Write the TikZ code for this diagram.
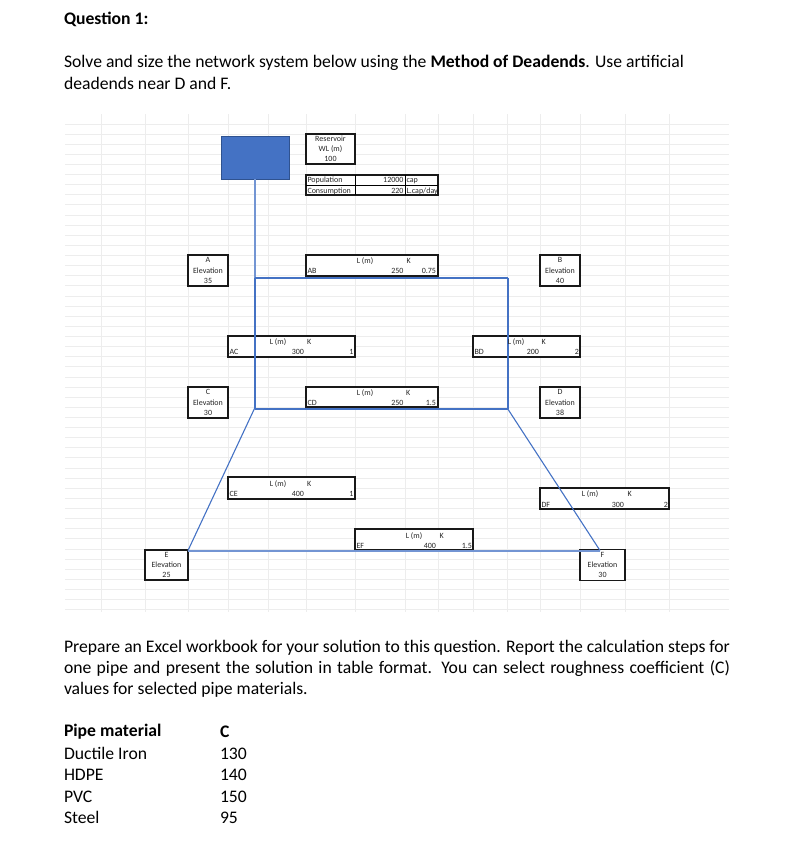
\documentclass[tikz,border=0pt]{standalone}
\usepackage{fontspec}
\setmainfont{Carlito}
\usetikzlibrary{positioning}
\definecolor{pipeblue}{HTML}{4472C4}
\definecolor{tankedge}{HTML}{2F528F}
\definecolor{gridgray}{HTML}{EDEDED}
\begin{document}
\begin{tikzpicture}[x=1pt,y=-1pt,
  every node/.style={inner sep=0pt, outer sep=0pt},
  para/.style={anchor=west, yshift=-1pt, font=\fontsize{17.65}{20}\selectfont},
  hd/.style={anchor=west, yshift=-1pt, font=\fontsize{17.65}{20}\selectfont\bfseries},
  gridline/.style={draw=gridgray, line width=1pt},
  cellbox/.style={draw=black!90, line width=1.1pt, fill=white},
  elev/.style={cellbox, align=center, text=black!85, font=\fontsize{8}{10.2}\selectfont,
               execute at begin node={\rule{0pt}{10pt}}},
  lcell/.style={anchor=west, text=black!85, text height=6pt, text depth=1pt, font=\fontsize{8}{9}\selectfont},
  ccell/.style={text=black!85, text height=6pt, text depth=1pt, font=\fontsize{8}{9}\selectfont},
  rcell/.style={anchor=east, text=black!85, text height=6pt, text depth=1pt, font=\fontsize{8}{9}\selectfont},
  tank/.style={draw=tankedge, fill=pipeblue, line width=0.8pt},
  feed/.style={draw=pipeblue!75, line width=2pt},
  pipe/.style={draw=pipeblue, line width=2pt},
  slantpipe/.style={draw=pipeblue, line width=1.1pt}]

\useasboundingbox (0,0) rectangle (801,844);

% spreadsheet grid
\foreach \gx in {101,145,188,228,268,306,355,405,438,473,507,540,580,625,669}
  \draw[gridline] (\gx,114) -- (\gx,612);
\foreach \gy in {0,...,48}
  \draw[gridline] (65,124+\gy*10.12) -- (729,124+\gy*10.12);

% text above
\node[hd] (q1) at (64,18.5) {Question 1:};
\node[para] (intro1) at (64,61.5) {Solve and size the network system below using the \textbf{Method of Deadends}. Use artificial};
\node[para] (intro2) at (64,82.5) {deadends near D and F.};

% reservoir
\node[tank, minimum width=68pt, minimum height=43pt] (res) at (255,157.5) {};
\node[elev, minimum width=49pt, minimum height=30pt] (reswl) at (330.5,149) {Reservoir\\WL (m)\\100};

% population table
\node[cellbox, minimum width=132pt, minimum height=20pt] (poptab) at (372,185) {};
\draw[line width=0.9pt] (355,175) -- (355,195);
\draw[line width=0.9pt] (405,175) -- (405,195);
\draw[line width=0.5pt] (306,185) -- (438,185);
\node[lcell] (poplbl) at (307.5,180) {Population};
\node[lcell] (conlbl) at (307.5,190.5) {Consumption};
\node[rcell] (popval) at (403.5,180) {12000};
\node[rcell] (conval) at (403.5,190.5) {220};
\node[lcell] (popunit) at (406.5,180) {cap};
\node[lcell] (conunit) at (406.5,190.5) {L.cap/day};

% junction boxes
\node[elev, minimum width=40pt, minimum height=31pt] (a) at (208,270.5) {A\\Elevation\\35};
\node[elev, minimum width=40pt, minimum height=31pt] (b) at (560,270.5) {B\\Elevation\\40};
\node[elev, minimum width=40pt, minimum height=31pt] (c) at (208,402.5) {C\\Elevation\\30};
\node[elev, minimum width=40pt, minimum height=31pt] (d) at (560,402.5) {D\\Elevation\\38};
\node[elev, minimum width=43pt, minimum height=30pt] (e) at (166.5,565) {E\\Elevation\\25};
\node[elev, minimum width=45pt, minimum height=31pt] (f) at (602.5,565) {F\\Elevation\\30};

% pipe tables
\node[cellbox, minimum width=132pt, minimum height=21pt] (ab) at (372,265.5) {};
\node[cellbox, minimum width=127pt, minimum height=21pt] (ac) at (291.5,346.5) {};
\node[cellbox, minimum width=107pt, minimum height=21pt] (bd) at (526.5,346.5) {};
\node[cellbox, minimum width=132pt, minimum height=20pt] (cd) at (372,397) {};
\node[cellbox, minimum width=127pt, minimum height=22pt] (ce) at (291.5,488) {};
\node[cellbox, minimum width=129pt, minimum height=21pt] (df) at (604.5,498.5) {};
\node[cellbox, minimum width=118pt, minimum height=21pt] (ef) at (414,539.5) {};

% pipes
\coordinate (ja) at (254.5,277.5);
\coordinate (jb) at (507.5,277.5);
\coordinate (jc) at (254.5,408.5);
\coordinate (jd) at (507.5,408.5);
\coordinate (je) at (188,550.5);
\coordinate (jf) at (600,550.5);
\draw[feed] (res.south -| ja) -- (ja);
\draw[pipe] (ja) -- (jb);
\draw[pipe] (ja) -- (jc);
\draw[pipe] (jb) -- (jd);
\draw[pipe] (jc) -- (jd);
\draw[slantpipe] (jc) -- (je);
\draw[slantpipe] (jd) -- (jf);
\draw[feed] (je) -- (jf);

% pipe table texts
\node[lcell] (abn) at (307.5,271) {AB};
\node[ccell] (abl) at (365,261) {L (m)};
\node[lcell] (abk) at (406.5,261) {K};
\node[rcell] (ablv) at (403.5,271) {250};
\node[rcell] (abkv) at (436,271) {0.75};

\node[lcell] (acn) at (229.5,352) {AC};
\node[ccell] (acl) at (278,342) {L (m)};
\node[lcell] (ack) at (307,342) {K};
\node[rcell] (aclv) at (304,352) {300};
\node[rcell] (ackv) at (353.5,352) {1};

\node[lcell] (bdn) at (474.5,352) {BD};
\node[ccell] (bdl) at (516,342) {L (m)};
\node[lcell] (bdk) at (541.5,342) {K};
\node[rcell] (bdlv) at (539,352) {200};
\node[rcell] (bdkv) at (579,352) {2};

\node[lcell] (cdn) at (307.5,402.5) {CD};
\node[ccell] (cdl) at (365,392.5) {L (m)};
\node[lcell] (cdk) at (406,392.5) {K};
\node[rcell] (cdlv) at (403.5,402.5) {250};
\node[rcell] (cdkv) at (436,402.5) {1.5};

\node[lcell] (cen) at (229.5,494) {CE};
\node[ccell] (cel) at (278,483.5) {L (m)};
\node[lcell] (cek) at (307,483.5) {K};
\node[rcell] (celv) at (304,494) {400};
\node[rcell] (cekv) at (353.5,494) {1};

\node[lcell] (dfn) at (541.5,504.5) {DF};
\node[ccell] (dfl) at (590,494) {L (m)};
\node[lcell] (dfk) at (627.5,494) {K};
\node[rcell] (dflv) at (624,504.5) {300};
\node[rcell] (dfkv) at (668,504.5) {2};

\node[lcell] (efn) at (356.5,545.5) {EF};
\node[ccell] (efl) at (414,535.5) {L (m)};
\node[lcell] (efk) at (439.5,535.5) {K};
\node[rcell] (eflv) at (436,545.5) {400};
\node[rcell] (efkv) at (472,545.5) {1.5};

% text below
\node[para] (out1) at (64,646.5) {\makebox[666pt][s]{Prepare an Excel workbook for your solution to this question. Report the calculation steps for}};
\node[para] (out2) at (64,667.5) {\makebox[666pt][s]{one pipe and present the solution in table format. You can select roughness coefficient (C)}};
\node[para] (out3) at (64,688.5) {values for selected pipe materials.};

% material table
\node[hd] (mat) at (64,731) {Pipe material};
\node[hd] (cval) at (220,731) {C};
\node[para] (m1) at (64,752.5) {Ductile Iron};
\node[para] (c1) at (220,752.5) {130};
\node[para] (m2) at (64,773.5) {HDPE};
\node[para] (c2) at (220,773.5) {140};
\node[para] (m3) at (64,795.5) {PVC};
\node[para] (c3) at (220,795.5) {150};
\node[para] (m4) at (64,816.5) {Steel};
\node[para] (c4) at (220,816.5) {95};
\end{tikzpicture}
\end{document}
